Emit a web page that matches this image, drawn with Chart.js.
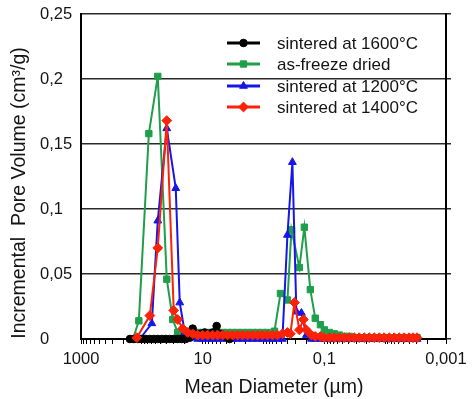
<!DOCTYPE html>
<html>
<head>
<meta charset="utf-8">
<script src="https://cdn.jsdelivr.net/npm/chart.js@4.4.1/dist/chart.umd.min.js"></script>
<style>
  html, body { margin: 0; padding: 0; background: #fff; }
  #wrap { width: 474px; height: 399px; }
</style>
</head>
<body>
<div id="wrap"><canvas id="chart" width="474" height="399"></canvas></div>
<script>
// values: diameters in µm, volumes in cm3/g
const xTickValues = [1000, 10, 0.1, 0.001];
const xTickLabels = ['1000', '10', '0,1', '0,001'];
const xTitle = 'Mean Diameter (µm)';
const yTitle = 'Incremental  Pore Volume (cm³/g)';

const diam1600 = [157, 135, 116, 100, 85.9, 73.9, 63.6, 54.7, 47.0, 40.4, 34.7, 29.9, 25.7,
  22.1, 19.0, 16.3, 14.6, 12.5, 10.8, 9.27, 7.98, 6.85, 5.89, 5.07, 4.36, 3.61];
const vol1600 = [0, 0, 0, 0, 0, 0, 0, 0, 0, 0, 0, 0, 0,
  0, 0, 0.001, 0.008, 0.004, 0.004, 0.005, 0.004, 0.005, 0.010, 0.004, 0.002, 0];

const diamDried = [140, 112, 76.7, 54.7, 38.9, 31.0, 25.7, 21.3, 17.6, 14.6, 12.1, 10.0, 8.28,
  6.85, 5.68, 4.70, 3.89, 3.22, 2.67, 2.21, 1.83, 1.51, 1.25, 1.04, 0.860, 0.660, 0.526,
  0.404, 0.347, 0.257, 0.213, 0.170, 0.141, 0.116, 0.100, 0.0828, 0.0686, 0.0568, 0.0470,
  0.0389, 0.0322, 0.0267, 0.0221, 0.0183, 0.0151, 0.0125, 0.0104, 0.00859, 0.00711,
  0.00589, 0.00489, 0.00404, 0.00348, 0.00299];
const volDried = [0, 0.014, 0.158, 0.202, 0.046, 0.015, 0.005, 0.005, 0.005, 0.005, 0.005, 0.005, 0.005,
  0.005, 0.005, 0.005, 0.005, 0.005, 0.005, 0.005, 0.005, 0.005, 0.005, 0.005, 0.005, 0.006, 0.035,
  0.030, 0.084, 0.055, 0.086, 0.038, 0.016, 0.011, 0.007, 0.005, 0.004, 0.003, 0.002,
  0.002, 0.001, 0.001, 0.001, 0.001, 0.001, 0.001, 0.001, 0.001, 0.001,
  0.001, 0.001, 0.001, 0.001, 0.001];

const diam1200 = [108, 68.5, 54.7, 38.9, 27.7, 23.8, 19.7, 16.3, 12.1, 10.0, 8.28, 6.85, 5.68,
  4.70, 3.89, 3.22, 2.67, 2.21, 1.83, 1.51, 1.25, 1.04, 0.860, 0.712, 0.589, 0.489,
  0.404, 0.335, 0.288, 0.238, 0.197, 0.163, 0.141, 0.116, 0.100, 0.0828, 0.0686, 0.0568,
  0.0470, 0.0389, 0.0322, 0.0267, 0.0221, 0.0183, 0.0151, 0.0125, 0.0104, 0.00859,
  0.00711, 0.00589, 0.00489, 0.00404, 0.00348, 0.00299];
const vol1200 = [0, 0.012, 0.091, 0.162, 0.116, 0.028, 0.005, 0.001, 0, 0, 0, 0, 0,
  0, 0, 0, 0, 0, 0, 0, 0, 0, 0, 0, 0, 0,
  0.080, 0.136, 0.021, 0.020, 0.003, 0, 0, 0, 0, 0, 0, 0,
  0, 0, 0, 0, 0, 0, 0, 0, 0, 0,
  0, 0, 0, 0, 0, 0];

const diam1400 = [121, 73.9, 54.7, 38.9, 29.9, 25.7, 21.3, 17.6, 14.6, 12.1, 10.0, 8.28, 6.85,
  5.68, 4.70, 3.89, 3.22, 2.67, 2.21, 1.83, 1.51, 1.25, 1.04, 0.860, 0.712, 0.589, 0.489,
  0.404, 0.361, 0.310, 0.257, 0.221, 0.197, 0.163, 0.141, 0.116, 0.100, 0.0828, 0.0686,
  0.0568, 0.0470, 0.0389, 0.0322, 0.0267, 0.0221, 0.0183, 0.0151, 0.0125, 0.0104,
  0.00859, 0.00711, 0.00589, 0.00489, 0.00404, 0.00348, 0.00299];
const vol1400 = [0.001, 0.018, 0.070, 0.168, 0.022, 0.015, 0.008, 0.005, 0.004, 0.003, 0.003, 0.003, 0.003,
  0.003, 0.003, 0.003, 0.003, 0.003, 0.003, 0.003, 0.003, 0.003, 0.003, 0.003, 0.003, 0.003, 0.004,
  0.005, 0.004, 0.028, 0.007, 0.015, 0.007, 0.003, 0.002, 0.002, 0.001, 0.001, 0.001,
  0.001, 0.001, 0.001, 0.001, 0.001, 0.001, 0.001, 0.001, 0.001, 0.001,
  0.001, 0.001, 0.001, 0.001, 0.001, 0.001, 0.001];

const FONT = '"Liberation Sans", Arial, sans-serif';

function points(diam, vol) {
  return diam.map((d, i) => ({x: d, y: vol[i]}));
}

function seriesStyle(color, pointStyle, radius) {
  return {
    borderColor: color,
    backgroundColor: color,
    pointBackgroundColor: color,
    pointBorderColor: color,
    pointStyle: pointStyle,
    pointRadius: radius,
    pointBorderWidth: 1,
    borderWidth: 2,
    tension: 0,
    clip: false
  };
}

// legend order as in the picture; order decides who is painted on top
const datasets = [
  {label: 'sintered at 1600°C', data: points(diam1600, vol1600), order: 1, ...seriesStyle('#000000', 'circle', 3.8)},
  {label: 'as-freeze dried', data: points(diamDried, volDried), order: 3, ...seriesStyle('#1f9f4c', 'rect', 4.5)},
  {label: 'sintered at 1200°C', data: points(diam1200, vol1200), order: 2, ...seriesStyle('#1616e8', 'triangle', 4.5)},
  {label: 'sintered at 1400°C', data: points(diam1400, vol1400), order: 0, ...seriesStyle('#fa2208', 'rectRot', 4.9)}
];

// every 1..9 step of each decade, only the four labelled ones get text
const minorTicks = [];
for (let e = -3; e <= 3; e++) {
  for (let s = 1; s <= 9; s++) {
    const v = s * Math.pow(10, e);
    if (v <= 1000.0001) minorTicks.push(v);
  }
}

const textPlugin = {
  id: 'textPlugin',
  afterDraw(chart) {
    const ctx = chart.ctx;
    ctx.save();
    ctx.fillStyle = '#141414';
    ctx.font = '19.5px ' + FONT;
    ctx.textAlign = 'center';
    ctx.textBaseline = 'alphabetic';
    ctx.fillText(xTitle, 274, 393);
    ctx.translate(25, 193);
    ctx.rotate(-Math.PI / 2);
    ctx.fillText(yTitle, 0, 0);
    ctx.restore();

    // legend inside the plot
    ctx.save();
    const rowY = [43, 64, 86, 107];
    chart.data.datasets.forEach((ds, i) => {
      const y = rowY[i];
      ctx.strokeStyle = ds.borderColor;
      ctx.fillStyle = ds.borderColor;
      ctx.lineWidth = 3;
      ctx.beginPath();
      ctx.moveTo(227, y);
      ctx.lineTo(260, y);
      ctx.stroke();
      ctx.lineWidth = 1;
      Chart.helpers.drawPoint(ctx, {pointStyle: ds.pointStyle, radius: ds.pointRadius, rotation: 0, borderWidth: 1}, 243.5, y);
      ctx.fillStyle = '#141414';
      ctx.font = '17px ' + FONT;
      ctx.textAlign = 'left';
      ctx.textBaseline = 'middle';
      ctx.fillText(ds.label, 277, y + 1);
    });
    ctx.restore();
  }
};

const chart = new Chart(document.getElementById('chart'), {
  type: 'line',
  data: {datasets: datasets},
  options: {
    responsive: false,
    animation: false,
    layout: {padding: {top: 14, left: 40, right: 0, bottom: 0}},
    plugins: {legend: {display: false}, tooltip: {enabled: false}},
    scales: {
      x: {
        type: 'logarithmic',
        reverse: true,
        min: 0.001,
        max: 1000,
        afterBuildTicks(scale) {
          scale.ticks = minorTicks.map(v => ({value: v}));
        },
        afterFit(scale) {
          scale.height = 60;
        },
        grid: {drawOnChartArea: false, drawTicks: true, tickLength: 5, color: '#000', lineWidth: 1},
        border: {display: true, color: '#000', width: 2},
        ticks: {
          autoSkip: false,
          maxRotation: 0,
          padding: 6,
          color: '#141414',
          font: {family: FONT, size: 16.5},
          callback(value) {
            const k = xTickValues.findIndex(t => Math.abs(Math.log10(t) - Math.log10(value)) < 1e-6);
            return k >= 0 ? xTickLabels[k] : '';
          }
        }
      },
      y: {
        min: 0,
        max: 0.25,
        afterFit(scale) {
          scale.width = 41;
        },
        grid: {color: '#2a2a2a', lineWidth: 1.5, drawTicks: false},
        border: {color: '#000', width: 2},
        ticks: {
          stepSize: 0.05,
          crossAlign: 'far',
          padding: 0,
          color: '#141414',
          font: {family: FONT, size: 16.5},
          callback: v => String(Math.round(v * 100) / 100).replace('.', ',')
        }
      },
      y2: {
        position: 'right',
        min: 0,
        max: 0.25,
        afterFit(scale) {
          scale.width = 28;
        },
        grid: {drawOnChartArea: false, tickLength: 5, color: '#2a2a2a', lineWidth: 1.5},
        border: {color: '#000', width: 2},
        ticks: {stepSize: 0.05, callback: () => ''}
      }
    }
  },
  plugins: [textPlugin]
});
</script>
</body>
</html>
